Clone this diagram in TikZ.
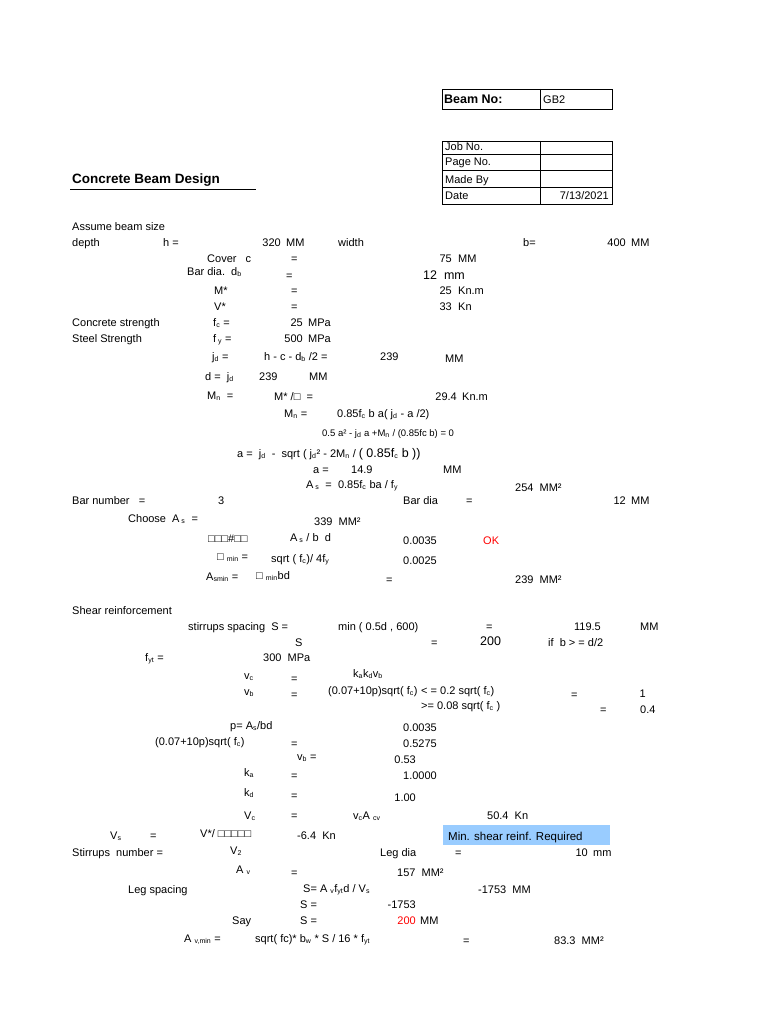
\documentclass[tikz,border=0pt]{standalone}
\usepackage{fontspec}
\setmainfont{Liberation Sans}
\newcounter{tc}
\newcommand\lo[1]{\textsubscript{\scriptsize #1}}
\newcommand\Lt[3]{\stepcounter{tc}\node[txt,anchor=base west] (t\arabic{tc}) at (#1,#2) {#3};}
\newcommand\Rt[3]{\stepcounter{tc}\node[txt,anchor=base east] (t\arabic{tc}) at (#1,#2) {#3};}
\begin{document}
\begin{tikzpicture}[x=1pt,y=-1pt,
  txt/.style={inner sep=0pt,font=\fontsize{11}{13}\selectfont},
  grid/.style={draw=black,line width=0.8pt}]
\useasboundingbox[fill=white] (0,0) rectangle (768,1024);
% Beam No box
\draw[grid] (442,89) rectangle (612,109) (540,89) -- (540,109);
\stepcounter{tc}\node[inner sep=0pt,anchor=base west,font=\fontsize{12.5}{14}\selectfont\bfseries] (t\arabic{tc}) at (444,104) {Beam No:};
\Lt{543}{104}{GB2}
% info table
\draw[grid] (442,141) rectangle (612,204);
\draw[grid] (540,141) -- (540,204) (442,154) -- (612,154) (442,170) -- (612,170) (442,187) -- (612,187);
\Lt{445}{151}{Job No.}
\Lt{445}{166}{Page No.}
\Lt{445}{184}{Made By}
\Lt{445}{200}{Date}
\Rt{609}{200}{7/13/2021}
% title
\node[inner sep=0pt,anchor=base west,font=\fontsize{13.5}{15}\selectfont\bfseries] (title) at (72,184) {Concrete Beam Design};
\draw[line width=0.8pt] (70,189) -- (256,189);
\Lt{72}{231}{Assume beam size}
\Lt{72}{246}{depth}\Lt{163}{246}{h =}\Rt{281}{246}{320}\Lt{286}{246}{MM}
\Lt{338}{246}{width}\Lt{523}{246}{b=}\Rt{626}{246}{400}\Lt{631}{246}{MM}
\Lt{207}{262}{Cover\ \ \ c}\Lt{291}{262}{=}\Rt{452}{262}{75}\Lt{458}{262}{MM}
\Lt{187}{275}{Bar dia.\ \ d\lo{b}}\Lt{286}{279}{=}
\stepcounter{tc}\node[inner sep=0pt,anchor=base west,font=\fontsize{12.5}{14}\selectfont] (t\arabic{tc}) at (423,279) {12\ \ mm};
\Lt{214}{294}{M*}\Lt{291}{294}{=}\Rt{452}{294}{25}\Lt{458}{294}{Kn.m}
\Lt{214}{310}{V*}\Lt{291}{310}{=}\Rt{452}{310}{33}\Lt{458}{310}{Kn}
\Lt{72}{326}{Concrete strength}\Lt{213}{326}{f\lo{c} =}\Rt{303}{326}{25}\Lt{308}{326}{MPa}
\Lt{72}{342}{Steel Strength}\Lt{213}{342}{f\,\lo{y} =}\Rt{303}{342}{500}\Lt{308}{342}{MPa}
\Lt{212}{360}{j\lo{d} =}\Lt{264}{360}{h - c - d\lo{b} /2 =}\Lt{380}{360}{239}\Lt{445}{362}{MM}
\Lt{205}{380}{d = \ j\lo{d}}\Lt{259}{380}{239}\Lt{309}{380}{MM}
\Lt{207}{399}{M\lo{n} \ =}\Lt{274}{400}{M* /□ \ =}\Rt{457}{400}{29.4}\Lt{462}{400}{Kn.m}
\Lt{284}{417}{M\lo{n} =}\Lt{337}{417}{0.85f\lo{c} b a( j\lo{d} - a /2)}
\stepcounter{tc}\node[inner sep=0pt,anchor=base west,font=\fontsize{9.5}{10}\selectfont] (t\arabic{tc}) at (322,436) {0.5 a² - j\lo{d} a +M\lo{n} / (0.85fc b) = 0};
\Lt{237}{457}{a = \ j\lo{d} \ - \ sqrt ( j\lo{d}² - 2M\lo{n} / {\fontsize{12.5}{14}\selectfont ( 0.85f\lo{c} b ))}}
\Lt{313}{473}{a =}\Lt{351}{473}{14.9}\Lt{443}{473}{MM}
\Lt{306}{488}{A\,\lo{s} \ = \ 0.85f\lo{c} ba / f\lo{y}}\Lt{515}{491}{254\ \ MM²}
\Lt{72}{504}{Bar number \ \ =}\Lt{218}{504}{3}\Lt{403}{504}{Bar dia}\Lt{466}{504}{=}\Rt{626}{504}{12}\Lt{631}{504}{MM}
\Lt{128}{522}{Choose \ A\,\lo{s} \ =}\Lt{314}{525}{339\ \ MM²}
\Lt{208}{542}{□□□\#□□}\Lt{290}{541}{A\,\lo{s} / b \ d}\Lt{403}{544}{0.0035}
\stepcounter{tc}\node[txt,anchor=base west,text=red] (t\arabic{tc}) at (483,544) {OK};
\Lt{217}{560}{□ \lo{min} =}\Lt{271}{562}{sqrt ( f\lo{c})/ 4f\lo{y}}\Lt{403}{564}{0.0025}
\Lt{206}{580}{A\lo{smin} =}\Lt{256}{579}{□ \lo{min}bd}\Lt{386}{583}{=}\Lt{515}{583}{239\ \ MM²}
\Lt{72}{614}{Shear reinforcement}
\Lt{188}{630}{stirrups spacing \ S =}\Lt{338}{630}{min ( 0.5d , 600)}\Lt{486}{630}{=}\Rt{601}{630}{119.5}\Lt{640}{630}{MM}
\Lt{295}{646}{S}\Lt{431}{646}{=}
\stepcounter{tc}\node[inner sep=0pt,anchor=base west,font=\fontsize{12.5}{14}\selectfont] (t\arabic{tc}) at (480,645) {200};
\Lt{548}{646}{if \ b > = d/2}
\Lt{145}{661}{f\lo{yt} =}\Lt{263}{661}{300 \ MPa}
\Lt{244}{679}{v\lo{c}}\Lt{291}{682}{=}\Lt{353}{677}{k\lo{a}k\lo{d}v\lo{b}}
\Lt{244}{695}{v\lo{b}}\Lt{291}{698}{=}\Lt{328}{694}{(0.07+10p)sqrt( f\lo{c})}\Lt{421}{694}{< = 0.2 sqrt( f\lo{c})}\Lt{571}{698}{=}\Rt{646}{697}{1}
\Lt{421}{709}{>= 0.08 sqrt( f\lo{c} )}\Lt{600}{713}{=}\Lt{640}{713}{0.4}
\Lt{230}{729}{p= A\lo{s}/bd}\Lt{403}{731}{0.0035}
\Lt{155}{745}{(0.07+10p)sqrt( f\lo{c})}\Lt{291}{747}{=}\Lt{403}{747}{0.5275}
\Lt{297}{760}{v\lo{b} =}\Rt{416}{763}{0.53}
\Lt{244}{776}{k\lo{a}}\Lt{291}{779}{=}\Lt{403}{779}{1.0000}
\Lt{244}{796}{k\lo{d}}\Lt{291}{799}{=}\Rt{416}{801}{1.00}
\Lt{244}{819}{V\lo{c}}\Lt{291}{819}{=}\Lt{353}{819}{v\lo{c}A \lo{cv}}\Lt{487}{819}{50.4 \ Kn}
\Lt{110}{839}{V\lo{s}}\Lt{150}{839}{=}\Lt{200}{837}{V*/ □□□□□}\Lt{297}{839}{-6.4 \ Kn}
\fill[fill={rgb,255:red,153;green,204;blue,255}] (443,825) rectangle (610,845);
\stepcounter{tc}\node[inner sep=0pt,anchor=base west,font=\fontsize{11.5}{13}\selectfont] (t\arabic{tc}) at (448,840) {Min. shear reinf. Required};
\Lt{72}{856}{Stirrups \ number =}\Lt{230}{854}{V\lo{2}}\Lt{380}{856}{Leg dia}\Lt{455}{856}{=}\Rt{588}{856}{10}\Lt{593}{856}{mm}
\Lt{236}{873}{A \lo{v}}\Lt{291}{876}{=}\Lt{397}{876}{157 \ MM²}
\Lt{128}{893}{Leg spacing}\Lt{303}{892}{S= A \lo{v}f\lo{yt}d / V\lo{s}}\Lt{478}{893}{-1753 \ MM}
\Lt{300}{908}{S =}\Rt{416}{908}{-1753}
\Lt{232}{924}{Say}\Lt{300}{924}{S =}
\stepcounter{tc}\node[txt,anchor=base east,text=red] (t\arabic{tc}) at (416,924) {200};
\Lt{420}{924}{MM}
\Lt{184}{942}{A \lo{v,min} =}\Lt{255}{942}{sqrt( fc)* b\lo{w} * S / 16 * f\lo{yt}}\Lt{463}{944}{=}\Lt{554}{944}{83.3 \ MM²}
\end{tikzpicture}
\end{document}
